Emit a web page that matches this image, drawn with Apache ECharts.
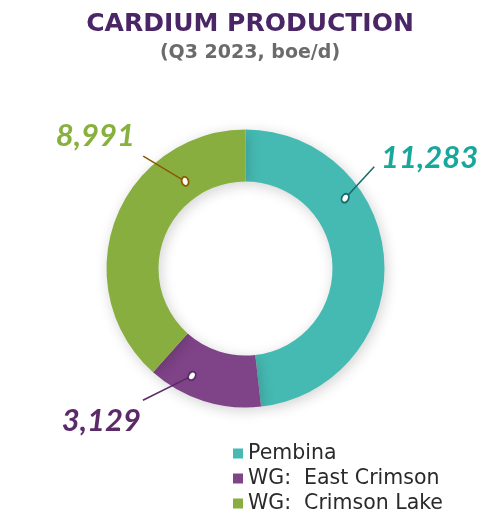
<!DOCTYPE html>
<html>
<head>
<meta charset="utf-8">
<script src="https://cdn.jsdelivr.net/npm/echarts@6/dist/echarts.min.js"></script>
<style>
  html, body { margin: 0; padding: 0; background: #ffffff; }
  #chart { width: 500px; height: 522px; }
</style>
</head>
<body>
<div id="chart"></div>
<script>
// ---- data ----
const categories = ['Pembina', 'WG:  East Crimson', 'WG:  Crimson Lake'];
const values = [11283, 3129, 8991];
const valueLabels = ['11,283', '3,129', '8,991'];

// ---- styles ----
const sliceColors = ['#45bab2', '#7f4388', '#89ae40'];
const labelColors = ['#17a89b', '#5b2a68', '#87b13d'];
const lineColors = ['#15696a', '#5a2a68', '#8a5a00'];

// ---- layout ----
const CX = 245.5, CY = 268.5;
const R_IN = 87, R_OUT = 139;
// callout anchor (oval) polar position, degrees clockwise from 12 o'clock
const dotAngle = [54.8, 206.5, 325.3];
const dotRadius = [122, 120, 106];
const endAngle = [51.7, 217.9, 317.7];
const endRadius = [164, 167, 152];
const labelX = [381, 141, 135];
const labelY = [158, 421, 136];
const labelAlign = ['left', 'right', 'right'];
const dotRotation = [-25, -30, 15];

function polar(deg, r) {
  const a = deg * Math.PI / 180;
  return [CX + r * Math.sin(a), CY - r * Math.cos(a)];
}

const chart = echarts.init(document.getElementById('chart'), null, { renderer: 'canvas' });

const pieData = categories.map((name, i) => ({
  name: name,
  value: values[i],
  itemStyle: { color: sliceColors[i] },
  label: { color: labelColors[i] }
}));

const callouts = [];
categories.forEach((n, i) => {
  const a = polar(dotAngle[i], dotRadius[i]);
  const b = polar(endAngle[i], endRadius[i]);
  callouts.push({
    type: 'polyline',
    z: 99,
    shape: { points: [a, b] },
    style: { stroke: lineColors[i], lineWidth: 1.5, fill: null }
  });
  callouts.push({
    type: 'ellipse',
    z: 100,
    x: a[0], y: a[1],
    rotation: dotRotation[i] * Math.PI / 180,
    shape: { cx: 0, cy: 0, rx: 3.4, ry: 4.6 },
    style: { fill: '#ffffff', stroke: lineColors[i], lineWidth: 1.8 }
  });
});

chart.setOption({
  animation: false,
  title: [
    {
      text: 'CARDIUM PRODUCTION',
      left: 'center', top: 7,
      textStyle: { fontFamily: 'DejaVu Sans', fontWeight: 'bold', fontSize: 25, color: '#4b2666' }
    },
    {
      text: '(Q3 2023, boe/d)',
      left: 'center', top: 39,
      textStyle: { fontFamily: 'DejaVu Sans', fontWeight: 'bold', fontSize: 19, color: '#6b6b6b' }
    }
  ],
  legend: {
    orient: 'vertical',
    left: 233, top: 443,
    padding: 0,
    itemWidth: 10, itemHeight: 10, itemGap: 4,
    icon: 'rect',
    data: categories,
    textStyle: { fontFamily: 'DejaVu Sans', fontSize: 20.5, lineHeight: 20, color: '#2a2a2a' }
  },
  graphic: callouts,
  series: [
    {
      type: 'pie',
      center: [CX, CY],
      radius: [R_IN, R_OUT],
      startAngle: 90,
      clockwise: true,
      avoidLabelOverlap: false,
      itemStyle: {
        shadowBlur: 14, shadowColor: 'rgba(0,0,0,0.18)', shadowOffsetX: 2, shadowOffsetY: 3
      },
      emphasis: { disabled: true },
      label: {
        show: true,
        position: 'outside',
        formatter: p => valueLabels[p.dataIndex],
        fontFamily: 'Lato',
        fontStyle: 'italic',
        fontWeight: 'bold',
        fontSize: 31
      },
      labelLine: { show: false },
      labelLayout: function (params) {
        const i = params.dataIndex;
        return { x: labelX[i], y: labelY[i], align: labelAlign[i], verticalAlign: 'middle' };
      },
      data: pieData
    }
  ]
});
</script>
</body>
</html>
